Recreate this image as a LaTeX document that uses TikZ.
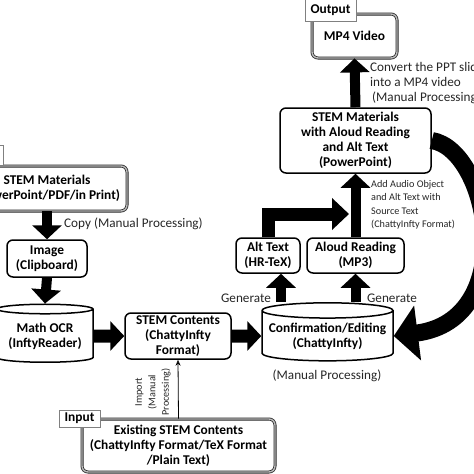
\documentclass[tikz,border=0pt]{standalone}
\usepackage{fontspec}
\setmainfont{Carlito}
\usetikzlibrary{shapes.geometric,arrows.meta}

\begin{document}
\begin{tikzpicture}[x=1pt,y=-1pt,
	box/.style={draw,line width=1.5pt,rounded corners=6pt,fill=white,align=center,
		font=\bfseries\fontsize{13.4}{15}\selectfont,inner sep=0pt},
	dblbox/.style={box,draw=black!85,line width=0.8pt,double=gray!55,double distance=1.4pt},
	can/.style={cylinder,shape border rotate=90,aspect=0.13,draw,line width=1.5pt,fill=white,
		align=center,font=\bfseries\fontsize{13.4}{15}\selectfont,inner sep=0pt},
	lbl/.style={draw=gray,line width=1pt,fill=white,font=\bfseries\fontsize{13.4}{15}\selectfont,inner sep=0pt},
	note/.style={text=black!85,font=\fontsize{13.2}{15}\selectfont,align=left,inner sep=0pt},
	smallnote/.style={text=black!85,font=\fontsize{10.2}{13.5}\selectfont,align=left,inner sep=0pt},
	blk/.style={line width=10pt,-{Triangle[length=14pt,width=29pt]}}]
	\clip (0,0) rectangle (474,474);
	% boxes
	\node[dblbox,minimum width=85pt,minimum height=44pt] (mp4) at (354.5,36) {MP4 Video};
	\node[lbl,minimum width=51pt,minimum height=22pt] (outlbl) at (330.5,10) {Output};
	\node[box,minimum width=151pt,minimum height=65pt] (stemppt) at (355.5,140.5)
		{STEM Materials\\with Aloud Reading\\and Alt Text\\(PowerPoint)};
	\node[box,minimum width=64pt,minimum height=35pt] (alttxt) at (268,255.5) {Alt Text\\(HR-TeX)};
	\node[box,minimum width=97pt,minimum height=35pt] (aloud) at (355.5,255.5) {Aloud Reading\\(MP3)};
	\node[dblbox,minimum width=160pt,minimum height=45pt] (stemmat) at (47,188.5)
		{STEM Materials\\(PowerPoint/PDF/in Print)};
	\node[lbl,minimum width=44pt,minimum height=20pt] (toplbl) at (-19,155) {};
	\node[box,minimum width=80pt,minimum height=37pt] (image) at (47,258.5) {Image\\(Clipboard)};
	\node[can,minimum width=96pt,minimum height=58pt] (ocr) at (45,336) {Math OCR\\(InftyReader)};
	\node[box,minimum width=106pt,minimum height=46pt] (stemcon) at (178,336)
		{STEM Contents\\(ChattyInfty\\Format)};
	\node[can,minimum width=131pt,minimum height=58pt] (conf) at (327.5,336)
		{Confirmation/Editing\\(ChattyInfty)};
	\node[dblbox,minimum width=193pt,minimum height=53pt] (exist) at (178.5,445.5)
		{Existing STEM Contents\\(ChattyInfty Format/TeX Format\\/Plain Text)};
	\node[lbl,minimum width=41pt,minimum height=17pt] (inlbl) at (79.5,418.5) {Input};
	% notes
	\node[note,anchor=west] (convnote) at (370,83)
		{Convert the PPT slides\\into a MP4 video\\\hspace{2pt}(Manual Processing)};
	\node[smallnote,anchor=west] (addnote) at (371,205)
		{Add Audio Object\\and Alt Text with\\Source Text\\(ChattyInfty Format)};
	\node[note,anchor=west] (copynote) at (64,224) {Copy (Manual Processing)};
	\node[note] (genalt) at (246,298) {Generate};
	\node[note] (genaloud) at (392,298) {Generate};
	\node[note] (mannote) at (327,376) {(Manual Processing)};
	\node[smallnote,align=center,rotate=90] (impnote) at (153,392) {Import\\(Manual\\Processing)};
	% arrows
	\coordinate (merge) at (349,214);
	\draw[blk] (stemppt.north) -- (mp4.south);
	\draw[blk] (aloud.north) -- (stemppt.south);
	\draw[blk,line width=13pt,-{Triangle[length=17pt,width=31pt]}] (alttxt.north) |- (merge);
	\draw[blk] ([xshift=13pt]alttxt.south |- conf.north) -- ([xshift=13pt]alttxt.south);
	\draw[blk] (aloud.south |- conf.north) -- (aloud.south);
	\draw[blk] (stemmat.south) -- (image.north);
	\draw[blk] (image.south) -- (ocr.north);
	\draw[blk,line width=13pt] (ocr.east) -- (stemcon.west);
	\draw[blk,line width=13pt] (stemcon.east) -- (conf.west);
	\draw[line width=17pt,-{Triangle[length=24pt,width=54pt]}]
		(stemppt.east) .. controls (490,150) and (520,320) .. (conf.east);
	\draw[line width=0.8pt,-{Stealth[length=6pt,width=5pt,open]}] (exist.north) -- (stemcon.south);
\end{tikzpicture}
\end{document}
